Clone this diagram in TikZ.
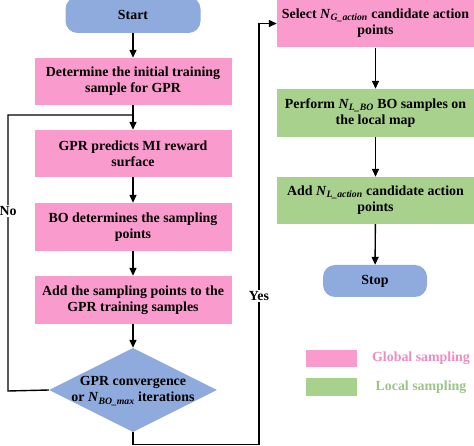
\documentclass[tikz,border=0pt]{standalone}
\usepackage{fontspec}
\setmainfont{Liberation Serif}
\usetikzlibrary{arrows.meta,shapes.geometric}
\definecolor{gpink}{RGB}{250,155,205}
\definecolor{lgreen}{RGB}{169,209,142}
\definecolor{sblue}{RGB}{143,170,220}
\definecolor{pinktext}{RGB}{240,140,190}
\definecolor{greentext}{RGB}{155,196,135}
\newcommand{\Nsub}[1]{\textit{N}\textsubscript{\textit{#1}}}
\begin{document}
\begin{tikzpicture}[x=1pt,y=-1pt,
  font=\fontsize{13.9}{16.2}\selectfont\bfseries,
  proc/.style={rectangle, minimum width=197pt, minimum height=48pt, align=center, inner sep=0pt},
  pinkbox/.style={proc, fill=gpink},
  greenbox/.style={proc, fill=lgreen},
  term/.style={rectangle, rounded corners=12pt, fill=sblue, align=center, inner sep=0pt},
  flow/.style={line width=1.4pt, -{Triangle[length=8pt,width=7pt]}},
  link/.style={line width=1.4pt},
  lab/.style={fill=white, inner sep=1pt},
  legbox/.style={rectangle, minimum width=51pt, minimum height=17pt, inner sep=0pt}]
\useasboundingbox (0,0) rectangle (474,446);

\node[term, minimum width=135pt, minimum height=36pt] (start) at (133,15) {Start};
\node[pinkbox, minimum height=47pt] (b1) at (133,81.5) {Determine the initial training\\sample for GPR};
\node[pinkbox, minimum height=47pt] (b2) at (133,153.5) {GPR predicts MI reward\\surface};
\node[pinkbox] (b3) at (133,227) {BO determines the sampling\\points};
\node[pinkbox] (b4) at (133,300) {Add the sampling points to the\\GPR training samples};
\node[diamond, fill=sblue, minimum width=168pt, minimum height=84pt, inner sep=0pt] (dia) at (133,390) {};
\node[align=center] (dtext) at (133,391) {GPR convergence\\or \Nsub{BO\_max} iterations};

\node[pinkbox] (b5) at (375.5,23.5) {Select \Nsub{G\_action} candidate action\\points};
\node[greenbox] (b6) at (375.5,113) {Perform \Nsub{L\_BO} BO samples on\\the local map};
\node[greenbox, minimum height=47pt] (b7) at (375.5,200.5) {Add \Nsub{L\_action} candidate action\\points};
\node[term, minimum width=104pt, minimum height=32pt] (stop) at (375,281) {Stop};

\coordinate (j) at (133,115);
\coordinate (nl) at (8,115);
\coordinate (nb) at (8,391);
\coordinate (ya) at (133,444.5);
\coordinate (yb) at (259,444.5);
\coordinate (yc) at (259,23.5);

\draw[flow] (start) -- (b1);
\draw[flow] (b1) -- (b2);
\draw[flow] (b2) -- (b3);
\draw[flow] (b3) -- (b4);
\draw[flow] (b4) -- (dia.north);
\draw[link] (dia.west) -- (nb) -- (nl) -- (j);
\draw[flow] (dia.south) -- (ya) -- (yb) -- (yc) -- (b5.west);
\draw[flow] (b5) -- (b6);
\draw[flow] (b6) -- (b7);
\draw[flow] (b7) -- (stop);

\node[lab] (no) at (8,211) {No};
\node[lab] (yes) at (259,296) {Yes};

\node[legbox, fill=gpink] (lg1) at (331.5,358.5) {};
\node[legbox, fill=lgreen, minimum height=18pt] (lg2) at (331.5,387) {};
\node[text=pinktext] (lt1) at (421,358) {Global sampling};
\node[text=greentext] (lt2) at (421,387) {Local sampling};
\end{tikzpicture}
\end{document}
